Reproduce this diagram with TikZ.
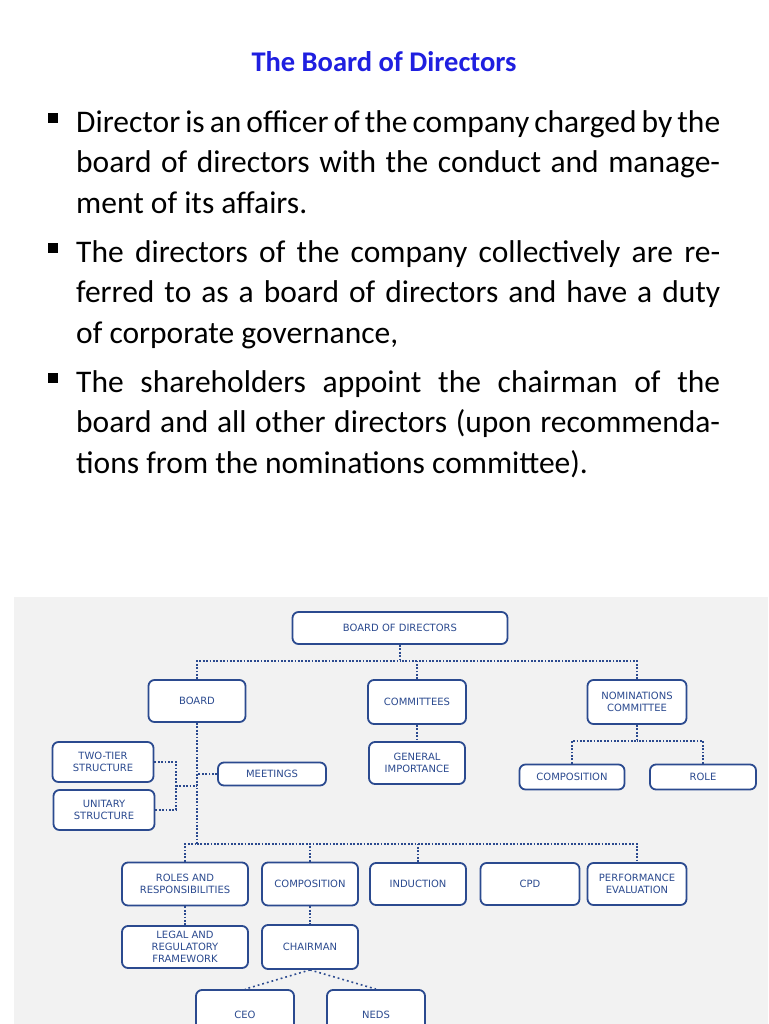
\documentclass[tikz,border=0pt]{standalone}
\usepackage{fontspec}
\setmainfont{Carlito}
\newfontfamily\boxfont{DejaVu Sans}
\definecolor{dblue}{HTML}{2B4A8F}
\definecolor{ttlblue}{HTML}{1F1FE0}
\newcommand\nohy{\hyphenpenalty=10000\relax\exhyphenpenalty=10000\relax}
\begin{document}
\begin{tikzpicture}[x=1pt,y=-1pt,
  bx/.style={draw=dblue,fill=white,line width=1.8pt,rounded corners=6pt,align=center,
    font=\boxfont\fontsize{10}{12}\selectfont,text=dblue,inner sep=0pt},
  con/.style={draw=dblue,line width=2.8pt,dash pattern=on 1.8pt off 1.6pt},
  thin/.style={draw=dblue,line width=1.6pt,dash pattern=on 1.8pt off 3pt}]
\clip (0,0) rectangle (768,1024);
\useasboundingbox (0,0) rectangle (768,1024);
\fill[white] (0,0) rectangle (768,1024);
\fill[black!5] (14,597) rectangle (768,1024);
\node[font=\bfseries\fontsize{28.5}{32}\selectfont,text=ttlblue] (title) at (384,62) {The Board of Directors};
\begin{scope}[every node/.style={anchor=north west,text width=644pt,align=justify,inner sep=0pt,
   font=\fontsize{31.5}{40.8}\selectfont}]
\node (p1) at (76,110) {\nohy Director is an officer of the company charged by the board of directors with the conduct and management of its affairs.};
\node (p2) at (76,240) {\nohy The directors of the company collectively are referred to as a board of directors and have a duty of corporate governance,};
\node (p3) at (76,370) {\nohy The shareholders appoint the chairman of the board and all other directors (upon recommendations from the nominations committee).};
\end{scope}
\foreach \y/\n in {128/b1,258/b2,388/b3}{\fill (48,\y-5) rectangle +(10,-10);}
% boxes
\node[bx,minimum width=215pt,minimum height=32pt] (bod) at (400,628) {BOARD OF DIRECTORS};
\node[bx,minimum width=97pt,minimum height=42pt] (board) at (197,701) {BOARD};
\node[bx,minimum width=98pt,minimum height=44pt] (comm) at (417,702) {COMMITTEES};
\node[bx,minimum width=99pt,minimum height=44pt] (nom) at (637,702) {NOMINATIONS\\COMMITTEE};
\node[bx,minimum width=101pt,minimum height=40pt] (two) at (103,762) {TWO-TIER\\STRUCTURE};
\node[bx,minimum width=101pt,minimum height=40pt] (uni) at (104,810) {UNITARY\\STRUCTURE};
\node[bx,minimum width=108pt,minimum height=23pt] (meet) at (272,774) {MEETINGS};
\node[bx,minimum width=96pt,minimum height=42pt] (gen) at (417,763) {GENERAL\\IMPORTANCE};
\node[bx,minimum width=105pt,minimum height=25pt] (ncomp) at (572,777) {COMPOSITION};
\node[bx,minimum width=106pt,minimum height=25pt] (role) at (703,777) {ROLE};
\node[bx,minimum width=126pt,minimum height=43pt] (roles) at (185,884) {ROLES AND\\RESPONSIBILITIES};
\node[bx,minimum width=96pt,minimum height=43pt] (comp) at (310,884) {COMPOSITION};
\node[bx,minimum width=96pt,minimum height=42pt] (ind) at (418,884) {INDUCTION};
\node[bx,minimum width=99pt,minimum height=42pt] (cpd) at (530,884) {CPD};
\node[bx,minimum width=99pt,minimum height=42pt] (perf) at (637,884) {PERFORMANCE\\EVALUATION};
\node[bx,minimum width=126pt,minimum height=42pt] (legal) at (185,947) {LEGAL AND\\REGULATORY\\FRAMEWORK};
\node[bx,minimum width=96pt,minimum height=44pt] (chair) at (310,947) {CHAIRMAN};
\node[bx,minimum width=98pt,minimum height=50pt] (ceo) at (245,1015) {CEO};
\node[bx,minimum width=98pt,minimum height=50pt] (neds) at (376,1015) {NEDS};
% connectors
\coordinate (t1) at (400,661);
\draw[con] (bod) -- (t1);
\draw[con] (board.north) |- (t1);
\draw[con] (comm.north) -- (comm.north|-t1);
\draw[con] (nom.north) |- (t1);
\draw[con] (comm) -- (gen);
\coordinate (t2) at (637,741);
\draw[con] (nom) -- (t2);
\draw[con] (ncomp.north) |- (t2);
\draw[con] (role.north) |- (t2);
\coordinate (t3) at (197,844);
\draw[con] (board) -- (t3);
\draw[con] (roles.north) |- (t3);
\draw[con] (t3) -| (perf.north);
\draw[con] (comp.north) -- (comp.north|-t3);
\draw[con] (ind.north) -- (ind.north|-t3);
\draw[con] (meet.west) -- (meet.west-|t3);
\coordinate (t4) at (176,786);
\draw[con] (two.east) -| (t4);
\draw[con] (uni.east) -| (t4);
\draw[con] (t4) -- (t4-|t3);
\draw[con] (roles) -- (legal);
\draw[con] (comp) -- (chair);
\draw[thin] (chair.south) -- (ceo.north);
\draw[thin] (chair.south) -- (neds.north);
\end{tikzpicture}
\end{document}
